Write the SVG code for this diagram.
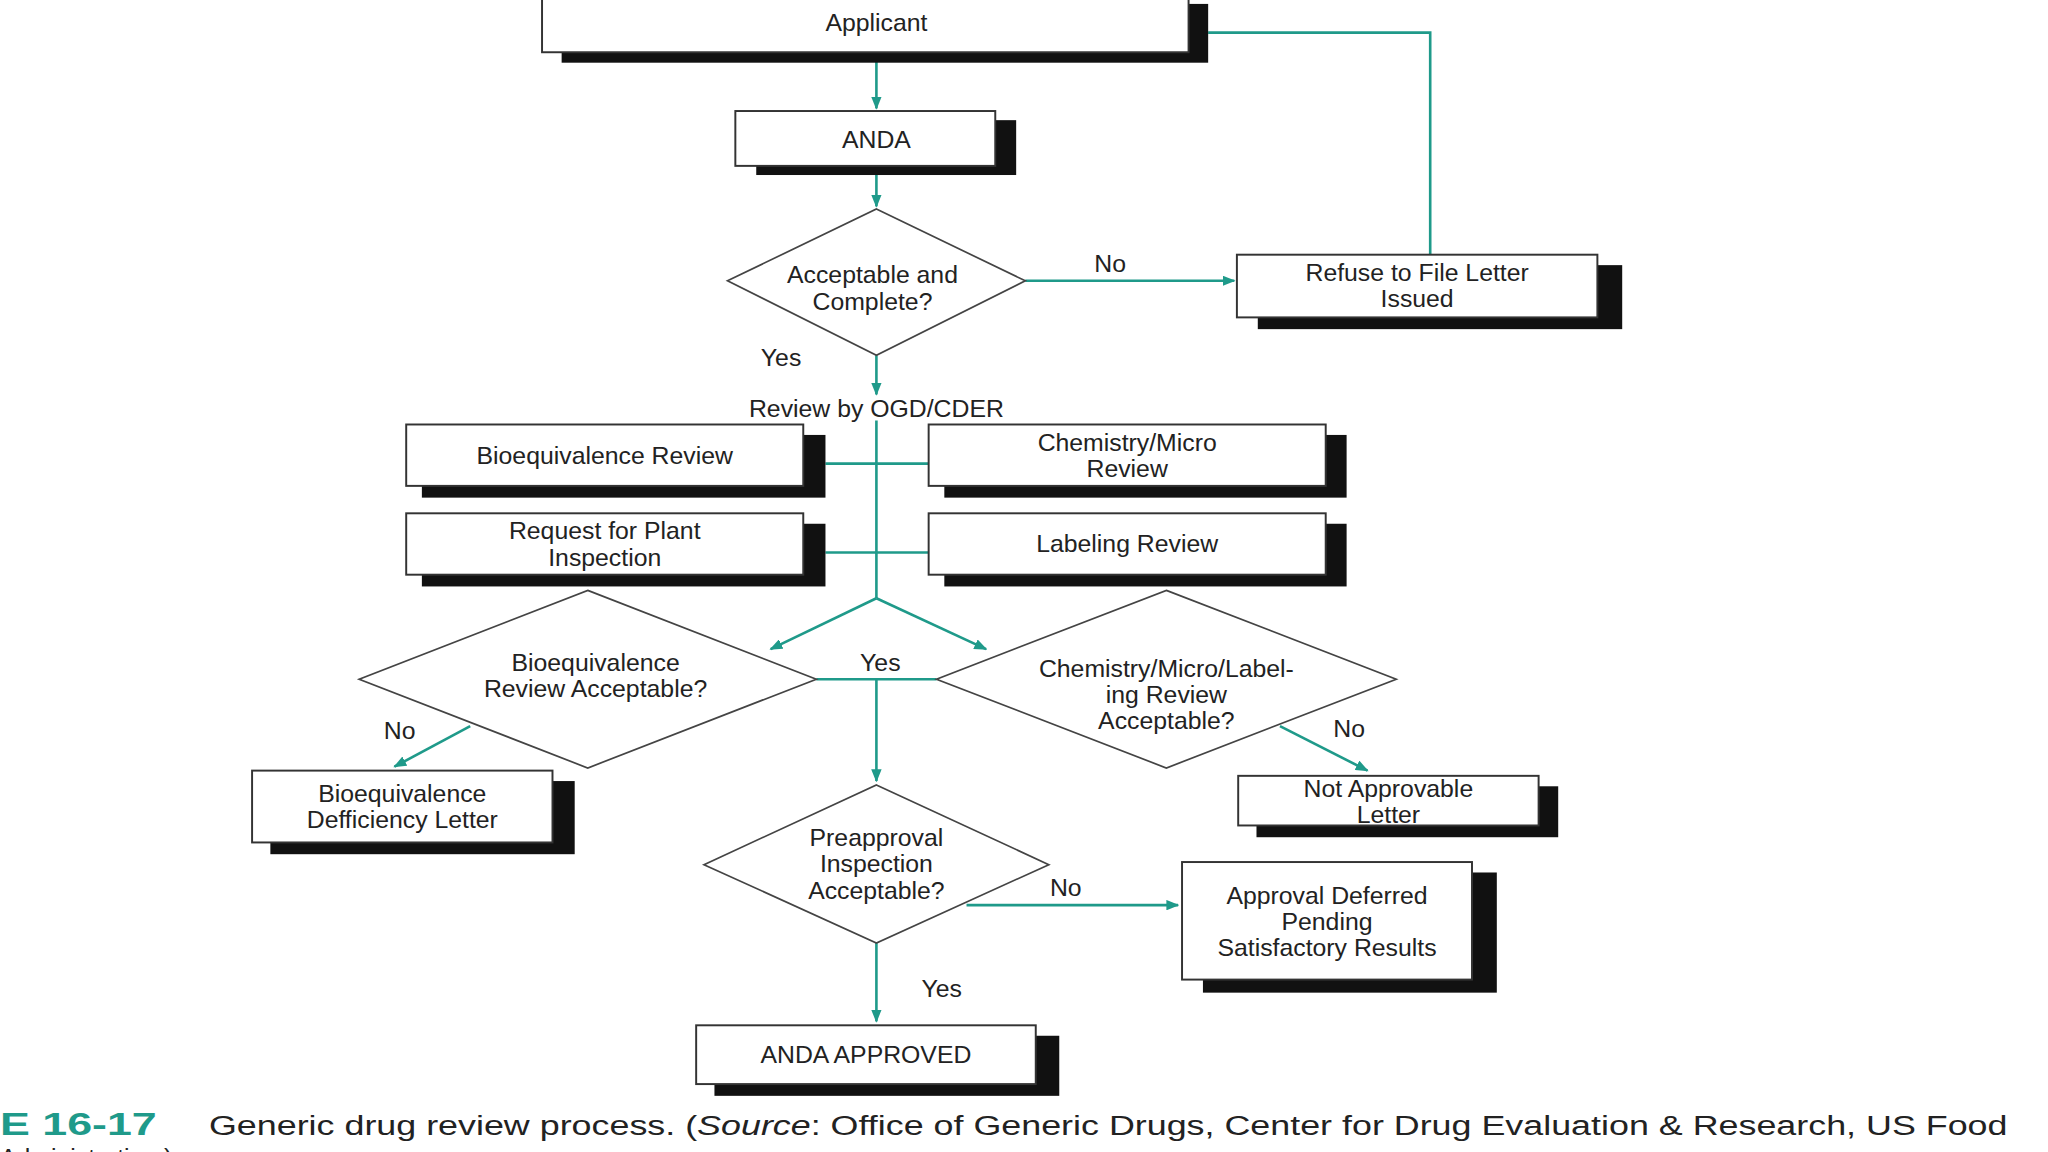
<svg xmlns="http://www.w3.org/2000/svg" width="2048" height="1152" viewBox="0 0 2048 1152">
<style>
.b{fill:#fff;stroke:#333;stroke-width:1.5}
.s{fill:#111}
.d{fill:#fff;stroke:#444;stroke-width:1.3}
.t{font-family:"Liberation Sans",Arial,sans-serif;font-size:19px;fill:#222;text-anchor:middle}
.c{stroke:#1f9a8a;stroke-width:2;fill:none}
.a{stroke:#1f9a8a;stroke-width:2;fill:none;marker-end:url(#m)}
</style>
<defs><marker id="m" markerWidth="10" markerHeight="8" refX="9" refY="4" orient="auto" markerUnits="userSpaceOnUse"><path d="M0,0L10,4L0,8z" fill="#1f9a8a"/></marker></defs>
<rect width="2048" height="1152" fill="#fff"/>
<g transform="scale(1.30612)">
<g id="connectors">
<path class="c" d="M925,25H1095V195"/>
<path class="a" d="M671,40V83"/>
<path class="a" d="M671,133V158"/>
<path class="a" d="M785,215H945"/>
<path class="a" d="M671,272V302"/>
<path class="c" d="M671,322V458M632,355H711M632,423H711"/>
<path class="a" d="M671,458L590,497"/>
<path class="a" d="M671,458L755,497"/>
<path class="c" d="M625,520H717"/>
<path class="a" d="M671,520V598"/>
<path class="a" d="M360,556L302,587"/>
<path class="a" d="M980,556L1047,590"/>
<path class="a" d="M740,693H902"/>
<path class="a" d="M671,722V782"/>
<g class="t"><text x="850" y="208">No</text><text x="598" y="280">Yes</text><text x="674" y="514">Yes</text><text x="306" y="566">No</text><text x="1033" y="564">No</text><text x="816" y="686">No</text><text x="721" y="763">Yes</text></g>
</g>
<g id="applicant"><rect class="s" x="430" y="3" width="495" height="45"/><rect class="b" x="415" y="-5" width="495" height="45"/><text class="t" x="671" y="24">Applicant</text></g>
<g id="anda"><rect class="s" x="579" y="92" width="199" height="42"/><rect class="b" x="563" y="85" width="199" height="42"/><text class="t" x="671" y="113">ANDA</text></g>
<g id="acceptable"><polygon class="d" points="671,160 785,215 671,272 557,215"/><text class="t" x="668" y="217">Acceptable and</text><text class="t" x="668" y="237">Complete?</text></g>
<g id="refuse"><rect class="s" x="963" y="203" width="279" height="49"/><rect class="b" x="947" y="195" width="276" height="48"/><text class="t" x="1085" y="215">Refuse to File Letter</text><text class="t" x="1085" y="235">Issued</text></g>
<text class="t" x="671" y="319">Review by OGD/CDER</text>
<g id="bioreview"><rect class="s" x="323" y="333" width="309" height="48"/><rect class="b" x="311" y="325" width="304" height="47"/><text class="t" x="463" y="355">Bioequivalence Review</text></g>
<g id="chemreview"><rect class="s" x="723" y="333" width="308" height="48"/><rect class="b" x="711" y="325" width="304" height="47"/><text class="t" x="863" y="345">Chemistry/Micro</text><text class="t" x="863" y="365">Review</text></g>
<g id="plant"><rect class="s" x="323" y="401" width="309" height="48"/><rect class="b" x="311" y="393" width="304" height="47"/><text class="t" x="463" y="413">Request for Plant</text><text class="t" x="463" y="433">Inspection</text></g>
<g id="labeling"><rect class="s" x="723" y="401" width="308" height="48"/><rect class="b" x="711" y="393" width="304" height="47"/><text class="t" x="863" y="423">Labeling Review</text></g>
<g id="bioacc"><polygon class="d" points="450,452 625,520 450,588 275,520"/><text class="t" x="456" y="514">Bioequivalence</text><text class="t" x="456" y="534">Review Acceptable?</text></g>
<g id="chemacc"><polygon class="d" points="893,452 1069,520 893,588 717,520"/><text class="t" x="893" y="518">Chemistry/Micro/Label-</text><text class="t" x="893" y="538">ing Review</text><text class="t" x="893" y="558">Acceptable?</text></g>
<g id="biodef"><rect class="s" x="207" y="598" width="233" height="56"/><rect class="b" x="193" y="590" width="230" height="55"/><text class="t" x="308" y="614">Bioequivalence</text><text class="t" x="308" y="634">Defficiency Letter</text></g>
<g id="notapp"><rect class="s" x="962" y="602" width="231" height="39"/><rect class="b" x="948" y="594" width="230" height="38"/><text class="t" x="1063" y="610">Not Approvable</text><text class="t" x="1063" y="630">Letter</text></g>
<g id="preapp"><polygon class="d" points="671,601 803,662 671,722 539,662"/><text class="t" x="671" y="648">Preapproval</text><text class="t" x="671" y="668">Inspection</text><text class="t" x="671" y="688">Acceptable?</text></g>
<g id="deferred"><rect class="s" x="921" y="668" width="225" height="92"/><rect class="b" x="905" y="660" width="222" height="90"/><text class="t" x="1016" y="692">Approval Deferred</text><text class="t" x="1016" y="712">Pending</text><text class="t" x="1016" y="732">Satisfactory Results</text></g>
<g id="approved"><rect class="s" x="547" y="793" width="264" height="46"/><rect class="b" x="533" y="785" width="260" height="45"/><text class="t" x="663" y="814">ANDA APPROVED</text></g>
<text x="0" y="869" font-family="Liberation Sans,Arial,sans-serif" font-size="24" font-weight="bold" fill="#1f9a8a" textLength="120" lengthAdjust="spacingAndGlyphs">E 16-17</text>
<text x="160" y="869" font-family="Liberation Sans,Arial,sans-serif" font-size="21" fill="#222" textLength="1377" lengthAdjust="spacingAndGlyphs">Generic drug review process. (<tspan font-style="italic">Source</tspan>: Office of Generic Drugs, Center for Drug Evaluation &amp; Research, US Food</text>
<text x="0" y="893" font-family="Liberation Sans,Arial,sans-serif" font-size="19" fill="#222">Administration.)</text>
</g>
</svg>
